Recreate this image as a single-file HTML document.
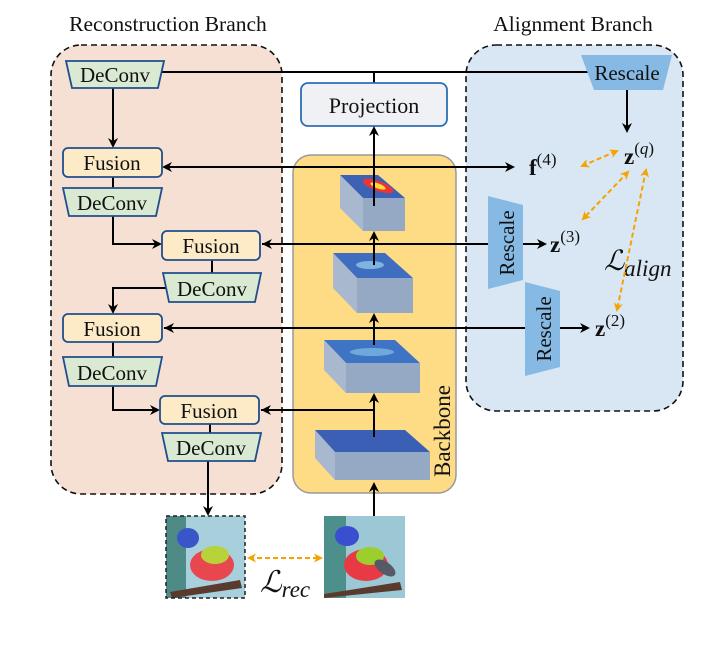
<!DOCTYPE html>
<html><head><meta charset="utf-8"><style>
body{margin:0;background:#fff}
text{font-family:"Liberation Serif",serif;fill:#111}
</style></head><body>
<svg width="728" height="647" viewBox="0 0 728 647" xmlns="http://www.w3.org/2000/svg">
<defs>
<marker id="a" markerWidth="10" markerHeight="10" refX="8" refY="5" orient="auto" markerUnits="userSpaceOnUse"><path d="M0,0 L10,5 L0,10 L3,5 z" fill="#000"/></marker>
<marker id="o" markerWidth="9" markerHeight="9" refX="7" refY="4.5" orient="auto" markerUnits="userSpaceOnUse"><path d="M0,0 L9,4.5 L0,9 L2.5,4.5 z" fill="#f5a300"/></marker>
<marker id="os" markerWidth="9" markerHeight="9" refX="2" refY="4.5" orient="auto" markerUnits="userSpaceOnUse"><path d="M9,0 L0,4.5 L9,9 L6.5,4.5 z" fill="#f5a300"/></marker>
</defs>
<text x="168" y="31" font-size="21.5" text-anchor="middle">Reconstruction Branch</text>
<text x="573" y="31" font-size="21.5" text-anchor="middle">Alignment Branch</text>
<rect x="51" y="45" width="231" height="449" rx="30" fill="#f6e0d3" stroke="#111" stroke-width="1.6" stroke-dasharray="6,4"/>
<rect x="466" y="45" width="217" height="366" rx="30" fill="#d9e7f4" stroke="#111" stroke-width="1.6" stroke-dasharray="6,4"/>
<rect x="293" y="155" width="163" height="338" rx="18" fill="#fedc86" stroke="#999" stroke-width="1.5"/>
<line x1="162" y1="72" x2="590" y2="72" stroke="#000" stroke-width="2"/>
<line x1="374" y1="72" x2="374" y2="83" stroke="#000" stroke-width="2"/>
<rect x="301" y="83" width="146" height="43" rx="7" fill="#eff1f4" stroke="#2e6db4" stroke-width="1.8"/>
<text x="374" y="113" font-size="22" text-anchor="middle">Projection</text>
<line x1="164" y1="167" x2="513" y2="167" stroke="#000" stroke-width="2" marker-end="url(#a)"/>
<path d="M172,162 L162,167 L172,172 L169,167 z" fill="#000"/>
<line x1="262" y1="244" x2="545" y2="244" stroke="#000" stroke-width="2" marker-end="url(#a)"/>
<path d="M272,239 L262,244 L272,249 L269,244 z" fill="#000"/>
<line x1="164" y1="328" x2="588" y2="328" stroke="#000" stroke-width="2" marker-end="url(#a)"/>
<path d="M174,323 L164,328 L174,333 L171,328 z" fill="#000"/>
<line x1="261" y1="410" x2="374" y2="410" stroke="#000" stroke-width="2"/>
<path d="M271,405 L261,410 L271,415 L268,410 z" fill="#000"/>
<line x1="113" y1="88" x2="113" y2="146" stroke="#000" stroke-width="2" marker-end="url(#a)"/>
<line x1="113" y1="177" x2="113" y2="190" stroke="#000" stroke-width="2"/>
<polyline points="113,216 113,244 160,244" fill="none" stroke="#000" stroke-width="2" marker-end="url(#a)"/>
<line x1="212" y1="260" x2="212" y2="273" stroke="#000" stroke-width="2"/>
<polyline points="168,288 113,288 113,312" fill="none" stroke="#000" stroke-width="2" marker-end="url(#a)"/>
<line x1="113" y1="342" x2="113" y2="357" stroke="#000" stroke-width="2"/>
<polyline points="113,386 113,410 158,410" fill="none" stroke="#000" stroke-width="2" marker-end="url(#a)"/>
<line x1="210" y1="424" x2="210" y2="434" stroke="#000" stroke-width="2"/>
<line x1="208" y1="461" x2="208" y2="514" stroke="#000" stroke-width="2" marker-end="url(#a)"/>
<g fill="#d9e9d2" stroke="#1f4e8c" stroke-width="1.8">
<polygon points="66,61 164,61 158,88 72,88"/>
<polygon points="63,188 162,188 156,216 69,216"/>
<polygon points="163,273 261,273 255,302 169,302"/>
<polygon points="63,357 162,357 156,386 69,386"/>
<polygon points="162,433 261,433 255,461 168,461"/>
</g>
<g font-size="21" text-anchor="middle">
<text x="115" y="82">DeConv</text>
<text x="112" y="210">DeConv</text>
<text x="212" y="296">DeConv</text>
<text x="112" y="380">DeConv</text>
<text x="211" y="455">DeConv</text>
</g>
<g fill="#fdebc8" stroke="#1f4e8c" stroke-width="1.8">
<rect x="63" y="148" width="99" height="29" rx="5"/>
<rect x="162" y="231" width="98" height="29" rx="5"/>
<rect x="63" y="314" width="99" height="28" rx="5"/>
<rect x="160" y="396" width="99" height="28" rx="5"/>
</g>
<g font-size="21" text-anchor="middle">
<text x="112" y="170">Fusion</text>
<text x="211" y="253">Fusion</text>
<text x="112" y="336">Fusion</text>
<text x="209" y="418">Fusion</text>
</g>
<g>
<polygon points="340,175 378,175 405,198 363,198" fill="#3d62b5"/>
<ellipse cx="378" cy="186" rx="16" ry="5" fill="#e33" transform="rotate(20 378 186)"/>
<ellipse cx="378" cy="186" rx="8" ry="2.5" fill="#fd3" transform="rotate(20 378 186)"/>
<polygon points="340,175 363,198 363,231 340,208" fill="#a7b8cf"/>
<rect x="363" y="198" width="42" height="33" fill="#96a9c4"/>
<polygon points="333,253 385,253 413,278 357,278" fill="#3f6ec0"/>
<ellipse cx="370" cy="265" rx="14" ry="4" fill="#7fb3e0"/>
<polygon points="333,253 357,278 357,313 333,288" fill="#a7b8cf"/>
<rect x="357" y="278" width="56" height="35" fill="#96a9c4"/>
<polygon points="324,340 395,340 420,363 346,363" fill="#3f74c4"/>
<ellipse cx="372" cy="352" rx="22" ry="4" fill="#6fa8dc"/>
<polygon points="324,340 346,363 346,393 324,370" fill="#a7b8cf"/>
<rect x="346" y="363" width="74" height="30" fill="#96a9c4"/>
<polygon points="315,430 405,430 430,452 335,452" fill="#3a5fb5"/>
<polygon points="315,430 335,452 335,480 315,458" fill="#a7b8cf"/>
<rect x="335" y="452" width="95" height="28" fill="#96a9c4"/>
</g>
<g stroke="#000" stroke-width="2" fill="none">
<line x1="374" y1="206" x2="374" y2="128" marker-end="url(#a)"/>
<line x1="374" y1="265" x2="374" y2="233" marker-end="url(#a)"/>
<line x1="374" y1="345" x2="374" y2="315" marker-end="url(#a)"/>
<line x1="374" y1="437" x2="374" y2="395" marker-end="url(#a)"/>
<line x1="374" y1="516" x2="374" y2="484" marker-end="url(#a)"/>
</g>
<text transform="translate(450,477) rotate(-90)" font-size="23">Backbone</text>
<polygon points="581,55 672,55 663,90 594,90" fill="#86b9e3"/>
<text x="627" y="80" font-size="21" text-anchor="middle">Rescale</text>
<line x1="627" y1="90" x2="627" y2="131" stroke="#000" stroke-width="2" marker-end="url(#a)"/>
<polygon points="488,196 523,205 523,280 488,289" fill="#86b9e3"/>
<text transform="translate(514,243) rotate(-90)" font-size="21" text-anchor="middle">Rescale</text>
<polygon points="525,282 560,291 560,367 525,376" fill="#86b9e3"/>
<text transform="translate(551,329) rotate(-90)" font-size="21" text-anchor="middle">Rescale</text>
<g font-size="23" font-weight="bold">
<text x="624" y="164">z<tspan font-weight="normal" font-size="17" dy="-10">(</tspan><tspan font-weight="normal" font-style="italic" font-size="17">q</tspan><tspan font-weight="normal" font-size="17">)</tspan></text>
<text x="529" y="175">f<tspan font-weight="normal" font-size="17" dy="-10">(4)</tspan></text>
<text x="550" y="252">z<tspan font-weight="normal" font-size="17" dy="-10">(3)</tspan></text>
<text x="595" y="336">z<tspan font-weight="normal" font-size="17" dy="-10">(2)</tspan></text>
</g>
<text x="604" y="270" font-size="28" font-style="italic">ℒ<tspan font-size="23" dy="6">align</tspan></text>
<g stroke="#f5a300" stroke-width="2" stroke-dasharray="5,3" fill="none">
<line x1="582" y1="166" x2="617" y2="151" marker-start="url(#os)" marker-end="url(#o)"/>
<line x1="628" y1="172" x2="583" y2="219" marker-start="url(#os)" marker-end="url(#o)"/>
<line x1="646" y1="170" x2="617" y2="310" marker-start="url(#os)" marker-end="url(#o)"/>
<line x1="249" y1="558" x2="321" y2="558" marker-start="url(#os)" marker-end="url(#o)"/>
</g>
<text x="260" y="592" font-size="30" font-style="italic">ℒ<tspan font-size="23" dy="5">rec</tspan></text>
<g>
<rect x="166" y="516" width="79" height="82" fill="#a8cfdc"/>
<rect x="166" y="516" width="20" height="82" fill="#4e8a86"/>
<ellipse cx="212" cy="565" rx="22" ry="16" fill="#e8474f"/>
<ellipse cx="215" cy="555" rx="14" ry="9" fill="#b8d23a"/>
<ellipse cx="188" cy="538" rx="11" ry="10" fill="#3a55c8"/>
<path d="M170,592 L240,580 L242,588 L172,598 z" fill="#5b3a2e"/>
<rect x="166" y="516" width="79" height="82" fill="none" stroke="#222" stroke-width="1.5" stroke-dasharray="4,3"/>
</g>
<g>
<rect x="324" y="516" width="81" height="82" fill="#9cc8d6"/>
<rect x="324" y="516" width="22" height="82" fill="#4c8f8b"/>
<ellipse cx="366" cy="565" rx="22" ry="16" fill="#e83a44"/>
<ellipse cx="370" cy="556" rx="14" ry="9" fill="#9ccf2e"/>
<ellipse cx="385" cy="568" rx="12" ry="6" fill="#555a66" transform="rotate(35 385 568)"/>
<ellipse cx="347" cy="536" rx="12" ry="10" fill="#3a4fd0"/>
<path d="M324,594 L400,582 L402,590 L324,598 z" fill="#5b3a2e"/>
</g>
</svg>
</body></html>
